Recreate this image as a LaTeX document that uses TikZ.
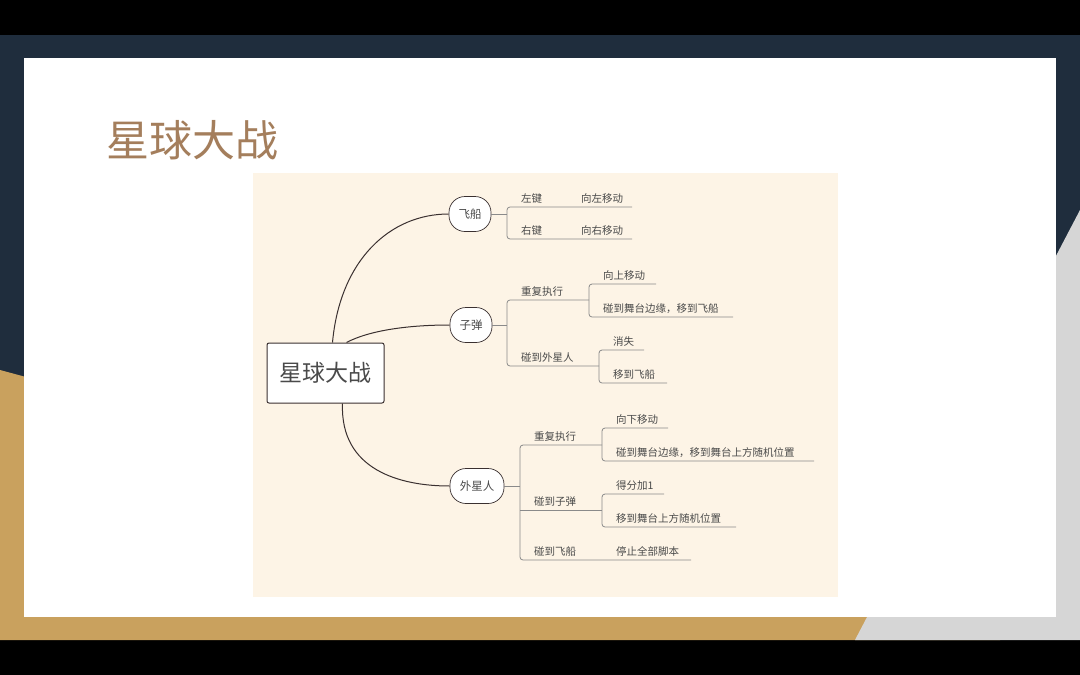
\documentclass[tikz,border=0pt]{standalone}
\usepackage{fontspec}
\setmainfont{Noto Sans CJK SC}
\newfontfamily\cjk{Noto Sans CJK SC}
\definecolor{navy}{HTML}{1F2D3D}
\definecolor{gold}{HTML}{C9A15E}
\definecolor{lgray}{HTML}{D6D6D6}
\definecolor{panel}{HTML}{FDF4E6}
\definecolor{titlec}{HTML}{A47E5C}
\definecolor{txt}{HTML}{4A4A4A}
\definecolor{curve}{HTML}{3A3030}
\definecolor{branch}{HTML}{8A8A8A}
\tikzset{
 lbl/.style={anchor=south west,inner sep=0pt,font=\cjk\fontsize{10.5}{11}\selectfont,text=txt},
 topic/.style={draw=curve,line width=0.7pt,fill=white,rounded corners=16pt,inner sep=1pt,font=\cjk\fontsize{11.5}{12}\selectfont,text=txt},
 conn/.style={draw=curve,line width=1pt},
 br/.style={draw=branch,line width=0.8pt,rounded corners=3pt},
}
\begin{document}
\begin{tikzpicture}[x=1pt,y=-1pt]
\useasboundingbox (0,0) rectangle (1080,675);
\fill[black] (0,0) rectangle (1080,675);
\fill[navy] (0,35) rectangle (1080,640);
\fill[gold] (0,370) -- (1000,640) -- (0,640) -- cycle;
\fill[lgray] (1080,210) -- (1080,640) -- (855,640) -- cycle;
\fill[white] (24,58) rectangle (1056,617);
\node[anchor=west,inner sep=0pt,font=\cjk\fontsize{43}{46}\selectfont,text=titlec] (title) at (106,140) {星球大战};
\fill[panel] (253,173) rectangle (838,597);
% root
\node[draw=curve,line width=1pt,fill=white,rounded corners=2pt,minimum width=117pt,minimum height=60pt,font=\cjk\fontsize{23}{25}\selectfont,text=txt] (root) at (325.5,373) {星球大战};
\node[topic,minimum width=42pt,minimum height=35pt] (fc) at (470,214) {飞船};
\node[topic,minimum width=42pt,minimum height=35pt] (zd) at (471,325) {子弹};
\node[topic,minimum width=54pt,minimum height=35pt] (wx) at (477,486) {外星人};
\draw[conn] ([xshift=-52pt]root.north east) .. controls (340,260) and (390,214) .. (fc.west);
\draw[conn] ([xshift=-38pt]root.north east) .. controls (370,330) and (410,325) .. (zd.west);
\draw[conn] ([xshift=-42pt]root.south east) .. controls (340,470) and (400,486) .. (wx.west);
% 飞船 branches
\coordinate (h1) at (507,214);
\draw[br] (fc.east) -- (h1);
\draw[br] (632,207) -- (507,207) -- (507,239) -- (632,239);
\node[lbl] (a1) at (521,204) {左键};
\node[lbl] (a2) at (581,204) {向左移动};
\node[lbl] (a3) at (521,236) {右键};
\node[lbl] (a4) at (581,236) {向右移动};
% 子弹
\draw[br] (zd.east) -- (507,325);
\draw[br] (589,300) -- (507,300) -- (507,366) -- (599,366);
\draw[br] (656,284) -- (589,284) -- (589,317) -- (733,317);
\draw[br] (644,350) -- (599,350) -- (599,383) -- (667,383);
\node[lbl] (b1) at (521,297) {重复执行};
\node[lbl] (b2) at (603,281) {向上移动};
\node[lbl] (b3) at (603,314) {碰到舞台边缘，移到飞船};
\node[lbl] (b4) at (521,363) {碰到外星人};
\node[lbl] (b5) at (613,347) {消失};
\node[lbl] (b6) at (613,380) {移到飞船};
% 外星人
\draw[br] (wx.east) -- (520,486);
\draw[br] (602,445) -- (520,445) -- (520,560) -- (691,560);
\draw[br] (520,510) -- (602,510);
\draw[br] (668,428) -- (602,428) -- (602,461) -- (814,461);
\draw[br] (664,494) -- (602,494) -- (602,527) -- (736,527);
\node[lbl] (c1) at (534,442) {重复执行};
\node[lbl] (c2) at (616,425) {向下移动};
\node[lbl] (c3) at (616,458) {碰到舞台边缘，移到舞台上方随机位置};
\node[lbl] (c4) at (534,507) {碰到子弹};
\node[lbl] (c5) at (616,491) {得分加1};
\node[lbl] (c6) at (616,524) {移到舞台上方随机位置};
\node[lbl] (c7) at (534,557) {碰到飞船};
\node[lbl] (c8) at (616,557) {停止全部脚本};
\end{tikzpicture}
\end{document}
